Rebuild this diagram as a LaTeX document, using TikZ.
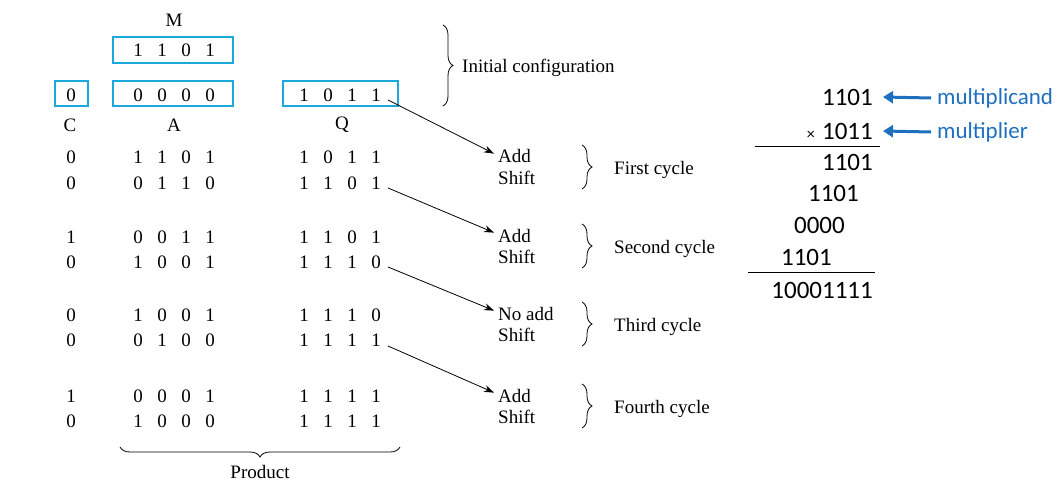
\documentclass[tikz,border=0pt]{standalone}
\usepackage{fontspec}
\setmainfont{Liberation Serif}
\newfontfamily\calib{Carlito}
\usetikzlibrary{decorations.pathreplacing,arrows.meta}
\definecolor{boxc}{HTML}{1BA8DF}
\definecolor{bl}{HTML}{1F6FBF}
\begin{document}
\begin{tikzpicture}[x=1pt,y=-1pt,
  t/.style={font=\fontsize{19}{21}\selectfont,inner sep=0pt},
  bx/.style={draw=boxc,line width=1.6pt},
  br/.style={decorate,decoration={brace,amplitude=10pt},thick},
  ar/.style={-{Stealth[length=10pt,width=7pt]},thick},
  cb/.style={font=\calib\fontsize{25}{27}\selectfont,inner sep=0pt,anchor=east},
  ba/.style={-{Triangle[length=10pt,width=12pt]},draw=bl,line width=3pt},
  bt/.style={font=\calib\fontsize{23}{25}\selectfont,text=bl,anchor=west,inner sep=0pt}]
\useasboundingbox (0,0) rectangle (1059,492);
\node[t] (M) at (174,20) {M};
\draw[bx] (113,37) rectangle (233,63);
\draw[bx] (113,81) rectangle (233,106);
\draw[bx] (55,81) rectangle (88,106);
\draw[bx] (283,81) rectangle (398,106);
\node[t] at (70,125) {C};
\node[t] at (174,125) {A};
\node[t] at (342,125) {Q};
\foreach \d [count=\i from 0] in {1,1,0,1} {\node[t] at (138+24*\i,50) {\d};}
\node[t] at (71,95) {0};
\foreach \d [count=\i from 0] in {0,0,0,0} {\node[t] at (138+24*\i,95) {\d};}
\foreach \d [count=\i from 0] in {1,0,1,1} {\node[t] at (304+24*\i,95) {\d};}
\foreach \y/\c/\a/\q in {157/0/{1,1,0,1}/{1,0,1,1},183/0/{0,1,1,0}/{1,1,0,1},
  237/1/{0,0,1,1}/{1,1,0,1},262/0/{1,0,0,1}/{1,1,1,0},
  315/0/{1,0,0,1}/{1,1,1,0},340/0/{0,1,0,0}/{1,1,1,1},
  396/1/{0,0,0,1}/{1,1,1,1},421/0/{1,0,0,0}/{1,1,1,1}}{
  \node[t] at (71,\y) {\c};
  \foreach \d [count=\i from 0] in \a {\node[t] at (138+24*\i,\y) {\d};}
  \foreach \d [count=\i from 0] in \q {\node[t] at (304+24*\i,\y) {\d};}
}
\coordinate (q0) at (388,100);
\coordinate (q1) at (388,188);
\coordinate (q2) at (388,267);
\coordinate (q3) at (388,346);
\foreach \y/\op/\cy [count=\k from 0] in {167/Add/First,246/Add/Second,324/No add/Third,406/Add/Fourth}{
  \node[t,anchor=west,align=left] (op\k) at (498,\y) {\op\\[0pt]Shift};
  \draw[br] (582,\y-22) -- (582,\y+22);
  \node[t,anchor=west] at (614,\y+3) {\cy\ cycle};
}
\draw[ar] (q0) -- ([shift={(-4pt,-4pt)}]op0.north west);
\draw[ar] (q1) -- ([shift={(-4pt,-4pt)}]op1.north west);
\draw[ar] (q2) -- ([shift={(-4pt,-4pt)}]op2.north west);
\draw[ar] (q3) -- ([shift={(-4pt,-4pt)}]op3.north west);
\draw[br] (443,25) -- (443,106);
\node[t,anchor=west] at (462,68) {Initial configuration};
\draw[br] (400,447) -- (120,447);
\node[t] at (260,472) {Product};
% right
\node[cb] (m1) at (873,97) {1101};
\node[cb] (m2) at (873,131) {\fontsize{16}{18}\selectfont×\ \ \fontsize{25}{27}\selectfont1011};
\draw[thick] (755,146) -- (880,146);
\node[cb] at (873,162) {1101};
\node[cb] at (859,193) {1101};
\node[cb] at (845,225) {0000};
\node[cb] at (832,257) {1101};
\draw[thick] (748,272) -- (875,272);
\node[cb] at (873,290) {10001111};
\node[bt] (mc) at (937,98) {multiplicand};
\node[bt] (mp) at (937,132) {multiplier};
\draw[ba] ([xshift=-6pt]mc.west) -- ([xshift=10pt]m1.east);
\draw[ba] ([xshift=-6pt]mp.west) -- ([xshift=10pt]m2.east);
\end{tikzpicture}
\end{document}
